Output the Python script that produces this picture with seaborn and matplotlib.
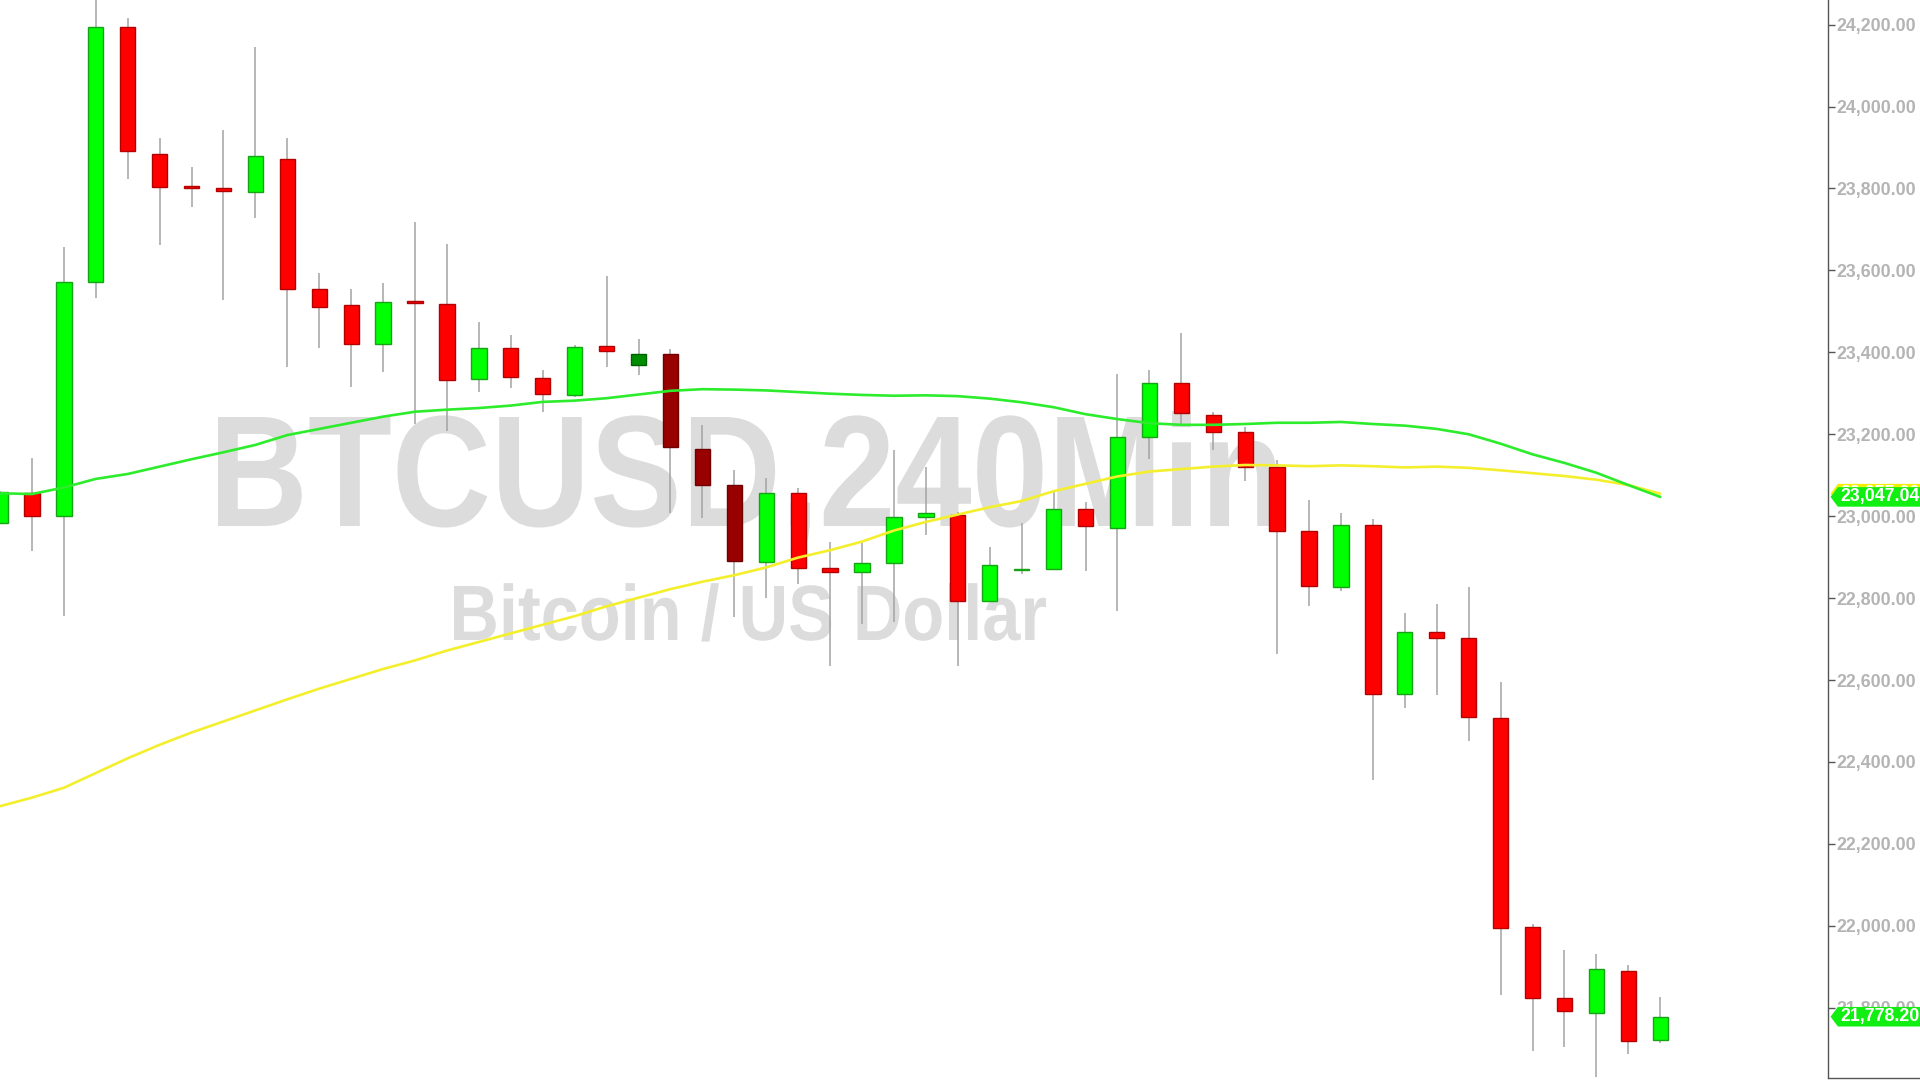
import matplotlib
matplotlib.use("Agg")
import matplotlib.pyplot as plt
import numpy as np
import pandas as pd
import seaborn as sns
from matplotlib.font_manager import FontProperties
from matplotlib.lines import Line2D
from matplotlib.patches import PathPatch
from matplotlib.path import Path
from matplotlib.textpath import TextPath
from matplotlib.transforms import Affine2D, blended_transform_factory

sns.set_theme(style="white")
plt.rcParams["font.family"] = ["Liberation Sans", "DejaVu Sans"]

# 240 min candles
opens = [22984, 23056, 23001, 23572, 24193, 23885, 23805, 23801, 23791, 23873,
         23554, 23516, 23421, 23525, 23519, 23335, 23411, 23338, 23297, 23415,
         23368, 23397, 23164, 23076, 22889, 23056, 22874, 22864, 22885, 22998,
         23004, 22793, 22868, 22870, 23018, 22972, 23194, 23326, 23246, 23206,
         23120, 22963, 22826, 22979, 22566, 22718, 22703, 22508, 21996, 21825,
         21788, 21891, 21722]
highs = [23062, 23142, 23657, 24270, 24215, 23924, 23853, 23943, 24145, 23923,
         23594, 23554, 23570, 23717, 23664, 23473, 23442, 23357, 23418, 23586,
         23432, 23407, 23223, 23113, 23094, 23068, 22938, 22934, 23162, 23120,
         23010, 22925, 22983, 23059, 23035, 23346, 23356, 23447, 23254, 23218,
         23138, 23039, 23008, 22994, 22764, 22785, 22828, 22595, 22005, 21940,
         21932, 21905, 21827]
lows = [22980, 22916, 22757, 23532, 23824, 23662, 23754, 23527, 23727, 23365,
        23411, 23316, 23353, 23225, 23208, 23303, 23312, 23255, 23292, 23363,
        23345, 23008, 22996, 22755, 22801, 22834, 22634, 22738, 22742, 22953,
        22634, 22790, 22860, 22868, 22865, 22769, 23140, 23226, 23162, 23086,
        22664, 22780, 22817, 22356, 22531, 22563, 22452, 21832, 21695, 21705,
        21632, 21687, 21713]
closes = [23059, 23001, 23572, 24193, 23891, 23803, 23802, 23793, 23880, 23554,
          23510, 23421, 23524, 23520, 23333, 23411, 23339, 23299, 23413, 23402,
          23397, 23168, 23076, 22890, 23057, 22874, 22863, 22885, 22999, 23007,
          22793, 22880, 22872, 23018, 22975, 23194, 23326, 23252, 23206, 23119,
          22963, 22830, 22978, 22565, 22718, 22703, 22509, 21995, 21825, 21792,
          21894, 21718, 21778.20]
# candles the platform paints in a darker shade
dark_candles = [20, 21, 22, 23]

ma_green = [23056, 23054, 23070, 23091, 23103, 23121, 23139, 23156, 23174, 23198,
            23213, 23228, 23243, 23255, 23260, 23264, 23270, 23279, 23282, 23288,
            23297, 23306, 23310, 23309, 23307, 23303, 23299, 23296, 23294, 23295,
            23293, 23287, 23278, 23266, 23249, 23237, 23227, 23223, 23223, 23225,
            23228, 23228, 23230, 23225, 23221, 23213, 23200, 23177, 23151, 23130,
            23106, 23076, 23047.04]
ma_yellow = [22292, 22313, 22337, 22373, 22409, 22442, 22472, 22499, 22526, 22553,
             22579, 22603, 22627, 22648, 22672, 22693, 22714, 22735, 22756, 22780,
             22801, 22822, 22840, 22856, 22875, 22899, 22917, 22938, 22965, 22986,
             23004, 23022, 23037, 23061, 23079, 23097, 23109, 23115, 23121, 23125,
             23124, 23122, 23124, 23122, 23119, 23121, 23118, 23112, 23105, 23098,
             23089, 23076, 23055]

price_ticks = [21800, 22000, 22200, 22400, 22600, 22800, 23000, 23200,
               23400, 23600, 23800, 24000, 24200]
title_text = "BTCUSD,240Min"
subtitle_text = "Bitcoin / US Dollar"

UP, UP_EDGE = "#00ff00", "#17a317"
DOWN, DOWN_EDGE = "#ff0000", "#b30000"
UP_DARK, DOWN_DARK = "#008c00", "#990000"
GREEN_LINE, YELLOW_LINE = "#2cec2c", "#f4ef2c"

W, H = 1920, 1080
fig = plt.figure(figsize=(W / 100, H / 100), dpi=100)
ax = fig.add_axes([0, 0.002, 0.952, 0.998])
ax.set_facecolor("white")

df = pd.DataFrame({"open": opens, "high": highs, "low": lows, "close": closes,
                   "ma_green": ma_green, "ma_yellow": ma_yellow})
df["idx"] = np.arange(len(df))


def add_watermark(text, left, right, cap_top, baseline):
    fp = FontProperties(family="Liberation Sans", weight="bold")
    path = TextPath((0, 0), text, size=100, prop=fp)
    cap = TextPath((0, 0), "B", size=100, prop=fp).get_extents().y1
    ext = path.get_extents()
    tr = (Affine2D().translate(-ext.x0, 0)
          .scale((right - left) / ext.width, (baseline - cap_top) / cap)
          .translate(left, H - baseline))
    ax.add_artist(PathPatch(path, transform=tr, facecolor="#dcdcdc",
                            edgecolor="none", zorder=0.5))


add_watermark(title_text, 218, 1276, 417, 526)
add_watermark(subtitle_text, 454, 1046, 586, 640)

# wicks
ax.vlines(df["idx"], df["low"], df["high"], color="#a3a3a3", linewidth=1.1, zorder=1)

# bodies
body_bottom = np.minimum(df["open"], df["close"])
body_h = np.maximum((df["close"] - df["open"]).abs(), 3)
face, edge = [], []
for i, row in df.iterrows():
    up = row["close"] >= row["open"]
    if i in dark_candles:
        face.append(UP_DARK if up else DOWN_DARK)
        edge.append("#006000" if up else "#700000")
    else:
        face.append(UP if up else DOWN)
        edge.append(UP_EDGE if up else DOWN_EDGE)
ax.bar(df["idx"], body_h, bottom=body_bottom, width=0.48, color=face,
       edgecolor=edge, linewidth=1.0, zorder=2)

sns.lineplot(data=df, x="idx", y="ma_yellow", color=YELLOW_LINE, linewidth=1.9,
             ax=ax, zorder=3)
sns.lineplot(data=df, x="idx", y="ma_green", color=GREEN_LINE, linewidth=1.9,
             ax=ax, zorder=3)

ax.set_xlim(0, 57.25)
ax.set_ylim(21629, 24260)
ax.set_xlabel("")
ax.set_ylabel("")
ax.set_xticks([])
ax.yaxis.tick_right()
ax.set_yticks(price_ticks)
ax.set_yticklabels([f"{v:,.2f}" for v in price_ticks])
ax.tick_params(axis="y", direction="out", length=5, width=1, color="#555555",
               labelcolor="#b4b4b4", labelsize=12.8, pad=1)
for lab in ax.get_yticklabels():
    lab.set_fontweight("bold")
for side in ["left", "top", "bottom"]:
    ax.spines[side].set_visible(False)
ax.spines["right"].set_color("#555555")
ax.spines["right"].set_linewidth(1.0)
fig.add_artist(Line2D([0.952, 1.0], [0.002, 0.002], color="#555555", linewidth=1.0))


def tag_box(x0, y0, width, height, mutation_size):
    pad = 0.12 * mutation_size
    half = 0.55 * mutation_size
    ym = y0 + height / 2
    x0 = x0 - pad
    x1 = x0 + width + 2 * pad + 20
    tip = 0.75 * half
    verts = [(x0 - tip, ym), (x0, ym - half), (x1, ym - half), (x1, ym + half),
             (x0, ym + half), (x0 - tip, ym)]
    codes = [Path.MOVETO] + [Path.LINETO] * 4 + [Path.CLOSEPOLY]
    return Path(verts, codes)


label_tr = blended_transform_factory(fig.transFigure, ax.transData)
for value, fc in [(ma_yellow[-1], "#f2ef00"), (ma_green[-1], "#11ee11"),
                  (closes[-1], "#11ee11")]:
    fig.text(1840 / W, value, f"{value:,.2f}", transform=label_tr, ha="left",
             va="center", color="white", fontsize=12.8, fontweight="bold",
             bbox=dict(boxstyle=tag_box, facecolor=fc, edgecolor="none"))

fig.savefig("out.png", dpi=100, facecolor="white")
